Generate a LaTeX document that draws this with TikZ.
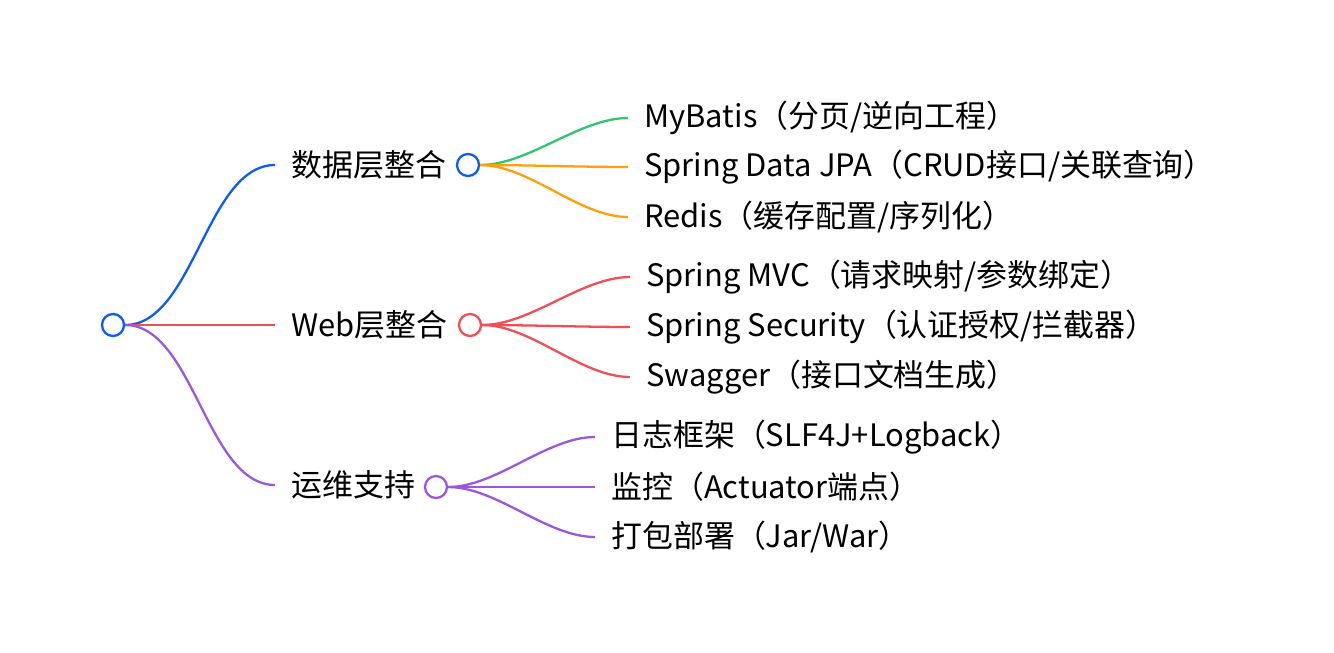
\documentclass[tikz,border=0pt]{standalone}
\usepackage{fontspec}
\setmainfont{Noto Sans CJK SC}
\usetikzlibrary{positioning}
\definecolor{cblue}{HTML}{0A5CF5}
\definecolor{cred}{HTML}{F24E55}
\definecolor{cpurple}{HTML}{9B57DE}
\definecolor{cgreen}{HTML}{2FC76E}
\definecolor{corange}{HTML}{FF9F0A}
\tikzset{
  dot/.style={circle, draw=#1, line width=1.3pt, fill=white, minimum size=0.44cm, inner sep=0pt},
  item/.style={anchor=west, inner xsep=0.32cm, inner ysep=0pt, font=\fontsize{17.6}{19}\selectfont},
  edge/.style={line width=1.3pt, draw=#1},
}
\newcommand{\branch}[3]{\draw[edge=#3] (#1.east) to[out=0, in=180, looseness=0.8] (#2.west);}
\begin{document}
\begin{tikzpicture}[x=0.02cm,y=-0.02cm]
\useasboundingbox (0,0) rectangle (1334,652);
% root
\node[dot=cblue] (root) at (113,325) {};
% level one
\node[item] (data) at (275,165) {数据层整合};
\node[item] (web) at (275,325) {Web层整合};
\node[item] (ops) at (275,485) {运维支持};
\node[dot=cblue] (datadot) at (468,165) {};
\node[dot=cred] (webdot) at (470,325) {};
\node[dot=cpurple] (opsdot) at (436,487) {};
% level two
\node[item] (mybatis) at (628,118) {MyBatis（分页/逆向工程）};
\node[item] (jpa) at (628,167) {Spring Data JPA（CRUD接口/关联查询）};
\node[item] (redis) at (628,217) {Redis（缓存配置/序列化）};
\node[item] (mvc) at (630,277) {Spring MVC（请求映射/参数绑定）};
\node[item] (security) at (630,327) {Spring Security（认证授权/拦截器）};
\node[item] (swagger) at (630,377) {Swagger（接口文档生成）};
\node[item] (log) at (595,437) {日志框架（SLF4J+Logback）};
\node[item] (monitor) at (595,487) {监控（Actuator端点）};
\node[item] (pack) at (595,537) {打包部署（Jar/War）};
% connectors
\branch{root}{data}{cblue}
\branch{root}{web}{cred}
\branch{root}{ops}{cpurple}
\branch{datadot}{mybatis}{cgreen}
\branch{datadot}{jpa}{corange}
\branch{datadot}{redis}{corange}
\branch{webdot}{mvc}{cred}
\branch{webdot}{security}{cred}
\branch{webdot}{swagger}{cred}
\branch{opsdot}{log}{cpurple}
\branch{opsdot}{monitor}{cpurple}
\branch{opsdot}{pack}{cpurple}
\end{tikzpicture}
\end{document}
